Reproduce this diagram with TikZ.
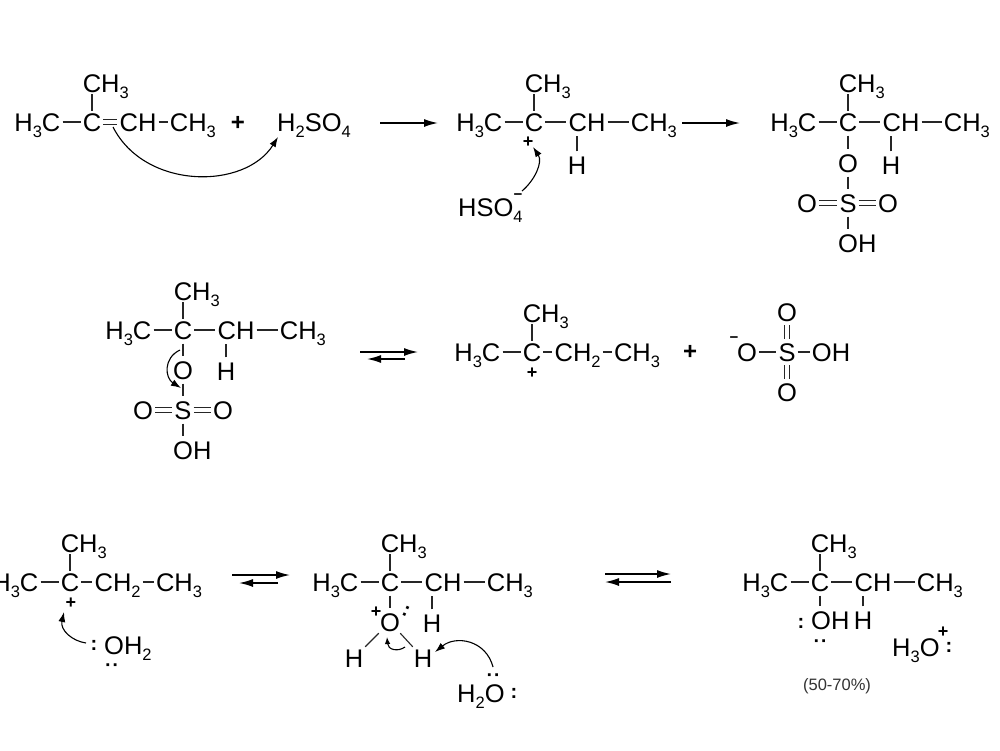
\documentclass[tikz,border=0pt]{standalone}
\usepackage{fontspec}
\setmainfont{Liberation Sans}
\usetikzlibrary{positioning,arrows.meta}

\tikzset{
	atom/.style={inner xsep=2pt,inner ysep=2pt,text height=18pt,text depth=0pt,font=\fontsize{25.5}{28}\selectfont},
	bond/.style={line width=1.4pt,black!85},
	vbond/.style={bond,shorten <=2.5pt,shorten >=2.5pt},
	dbl/.style={double,double distance=3.8pt,line width=1.4pt,black!85},
	rxn/.style={line width=1.5pt,-{Latex[length=14pt,width=8pt]}},
	curly/.style={line width=1.1pt,-{Latex[length=10pt,width=7pt]}},
	sign/.style={inner sep=0pt,font=\fontsize{24}{24}\bfseries\selectfont},
	charge/.style={inner sep=0pt,font=\fontsize{18}{18}\bfseries\selectfont},
	minus/.style={inner sep=0pt,font=\fontsize{15}{15}\bfseries\selectfont},
	pair/.style={inner sep=0pt,font=\fontsize{20}{20}\bfseries\selectfont},
}
\newcommand{\tsub}[1]{\raisebox{-6pt}{\fontsize{16.5}{16.5}\selectfont #1}}

\begin{document}
\begin{tikzpicture}[x=1pt,y=-1pt]
	\useasboundingbox (0,0) rectangle (1000,750);
	\fill[white] (0,0) rectangle (1000,750);

	% top row: alkene + acid
	\node [atom] (c1) at (92,122) {C};
	\node [atom, base left=18pt of c1] (a1) {H\tsub{3}C};
	\node [atom, base right=14pt of c1] (d1) {CH};
	\node [atom, base right=9pt of d1] (e1) {CH\tsub{3}};
	\node [atom, above=16.5pt of c1.north west, anchor=south west] (m1) {CH\tsub{3}};
	\node [sign] (p1) at (238,123) {+};
	\node [atom, anchor=west] (acid) at (275,122) {H\tsub{2}SO\tsub{4}};
	\coordinate (a1s) at (380,123);
	\coordinate (a1e) at (438,123);
	\draw[bond] (a1) -- (c1);
	\draw[bond] (c1.north) -- (c1.north |- m1.south);
	\draw[dbl] (c1) -- (d1);
	\draw[bond] (d1) -- (e1);
	\draw[curly] (113,127) .. controls (145,190) and (245,190) .. (278,137);
	\draw[rxn] (a1s) -- (a1e);

	% top row: carbocation
	\node [atom] (c2) at (534,122) {C};
	\node [atom, base left=18pt of c2] (a2) {H\tsub{3}C};
	\node [atom, base right=21pt of c2] (d2) {CH};
	\node [atom, base right=21pt of d2] (e2) {CH\tsub{3}};
	\node [atom, above=16.5pt of c2.north west, anchor=south west] (m2) {CH\tsub{3}};
	\node [atom] (h2) at (577,165) {H};
	\node [charge] (p2) at (528,142) {+};
	\node [atom, anchor=west] (hso) at (456,207) {HSO\tsub{4}};
	\node [minus] (n2) at (518,197) {−};
	\coordinate (a2s) at (682,123);
	\coordinate (a2e) at (740,123);
	\draw[bond] (a2) -- (c2);
	\draw[bond] (c2) -- (d2);
	\draw[bond] (d2) -- (e2);
	\draw[bond] (c2.north) -- (c2.north |- m2.south);
	\draw[vbond] (h2.north) -- (h2.north |- d2.south);
	\draw[curly] (522,191) .. controls (535,180) and (543,162) .. (533,147);
	\draw[rxn] (a2s) -- (a2e);

	% top row: sulfate ester
	\node [atom] (c3) at (848,122) {C};
	\node [atom, base left=18pt of c3] (a3) {H\tsub{3}C};
	\node [atom, base right=21pt of c3] (d3) {CH};
	\node [atom, base right=20pt of d3] (e3) {CH\tsub{3}};
	\node [atom, above=16.5pt of c3.north west, anchor=south west] (m3) {CH\tsub{3}};
	\node [atom] (h3) at (891,165) {H};
	\node [atom] (o3) at (848,163) {O};
	\node [atom] (s3) at (848,203) {S};
	\node [atom] (l3) at (807,203) {O};
	\node [atom] (r3) at (888,203) {O};
	\node [atom, anchor=west] (oh3) at (836,243) {OH};
	\draw[bond] (a3) -- (c3);
	\draw[bond] (c3) -- (d3);
	\draw[bond] (d3) -- (e3);
	\draw[bond] (c3.north) -- (c3.north |- m3.south);
	\draw[vbond] (h3.north) -- (h3.north |- d3.south);
	\draw[vbond] (c3.south) -- (o3.north);
	\draw[vbond] (o3.south) -- (s3.north);
	\draw[vbond] (s3.south) -- (s3.south |- oh3.north);
	\draw[dbl] (l3) -- (s3);
	\draw[dbl] (s3) -- (r3);

	% middle row: ester with curved arrow
	\node [atom] (c4) at (183,330) {C};
	\node [atom, base left=18pt of c4] (a4) {H\tsub{3}C};
	\node [atom, base right=21pt of c4] (d4) {CH};
	\node [atom, base right=21pt of d4] (e4) {CH\tsub{3}};
	\node [atom, above=16.5pt of c4.north west, anchor=south west] (m4) {CH\tsub{3}};
	\node [atom] (h4) at (226,371) {H};
	\node [atom] (o4) at (183,370) {O};
	\node [atom] (s4) at (183,410) {S};
	\node [atom] (l4) at (143,410) {O};
	\node [atom] (r4) at (223,410) {O};
	\node [atom, anchor=west] (oh4) at (171,450) {OH};
	\draw[bond] (a4) -- (c4);
	\draw[bond] (c4) -- (d4);
	\draw[bond] (d4) -- (e4);
	\draw[bond] (c4.north) -- (c4.north |- m4.south);
	\draw[vbond] (h4.north) -- (h4.north |- d4.south);
	\draw[vbond] (c4.south) -- (o4.north);
	\draw[vbond] (o4.south) -- (s4.north);
	\draw[vbond] (s4.south) -- (s4.south |- oh4.north);
	\draw[dbl] (l4) -- (s4);
	\draw[dbl] (s4) -- (r4);
	\draw[curly] (180,350) .. controls (163,358) and (165,378) .. (181,388);
	\coordinate (b1s) at (360,352);
	\coordinate (b1e) at (418,352);
	\coordinate (b2s) at (405,359);
	\coordinate (b2e) at (367,359);
	\draw[rxn] (b1s) -- (b1e);
	\draw[rxn] (b2s) -- (b2e);

	% middle row: cation + bisulfate
	\node [atom] (c5) at (532,352) {C};
	\node [atom, base left=18pt of c5] (a5) {H\tsub{3}C};
	\node [atom, base right=9pt of c5] (d5) {CH\tsub{2}};
	\node [atom, base right=9pt of d5] (e5) {CH\tsub{3}};
	\node [atom, above=16.5pt of c5.north west, anchor=south west] (m5) {CH\tsub{3}};
	\node [charge] (p5) at (532,373) {+};
	\node [sign] (p6) at (690,352) {+};
	\node [minus] (n6) at (734,340) {−};
	\node [atom] (o6) at (747,352) {O};
	\node [atom] (s6) at (787,352) {S};
	\node [atom, base right=12pt of s6] (oh6) {OH};
	\node [atom] (t6) at (787,312) {O};
	\node [atom] (u6) at (787,392) {O};
	\draw[bond] (a5) -- (c5);
	\draw[bond] (c5) -- (d5);
	\draw[bond] (d5) -- (e5);
	\draw[bond] (c5.north) -- (c5.north |- m5.south);
	\draw[bond] (o6) -- (s6);
	\draw[bond] (s6) -- (oh6);
	\draw[dbl,shorten <=2pt,shorten >=2pt] (t6) -- (s6);
	\draw[dbl,shorten <=2pt,shorten >=2pt] (s6) -- (u6);

	% bottom row: water attacks cation
	\node [atom] (c7) at (70,582) {C};
	\node [atom, base left=18pt of c7] (a7) {H\tsub{3}C};
	\node [atom, base right=11pt of c7] (d7) {CH\tsub{2}};
	\node [atom, base right=11pt of d7] (e7) {CH\tsub{3}};
	\node [atom, above=16.5pt of c7.north west, anchor=south west] (m7) {CH\tsub{3}};
	\node [charge] (p7) at (71,603) {+};
	\node [pair] (w7) at (94,645) {:};
	\node [atom, anchor=west] (o7) at (102,645) {OH\tsub{2}};
	\node [pair, rotate=90] (v7) at (111.5,665) {:};
	\draw[bond] (a7) -- (c7);
	\draw[bond] (c7) -- (d7);
	\draw[bond] (d7) -- (e7);
	\draw[bond] (c7.north) -- (c7.north |- m7.south);
	\draw[curly] (86,643) .. controls (72,641) and (60,630) .. (64,612);
	\coordinate (b3s) at (232,575);
	\coordinate (b3e) at (290,575);
	\coordinate (b4s) at (278,583);
	\coordinate (b4e) at (239,583);
	\draw[rxn] (b3s) -- (b3e);
	\draw[rxn] (b4s) -- (b4e);

	% bottom row: oxonium
	\node [atom] (c8) at (390,582) {C};
	\node [atom, base left=18pt of c8] (a8) {H\tsub{3}C};
	\node [atom, base right=21pt of c8] (d8) {CH};
	\node [atom, base right=21pt of d8] (e8) {CH\tsub{3}};
	\node [atom, above=16.5pt of c8.north west, anchor=south west] (m8) {CH\tsub{3}};
	\node [atom] (o8) at (390,622) {O};
	\node [atom] (h8) at (432,623) {H};
	\node [atom] (l8) at (354,658) {H};
	\node [atom] (r8) at (423,658) {H};
	\node [charge] (p8) at (376,612) {+};
	\node [pair, rotate=-25] (w8) at (406,611) {:};
	\node [atom, anchor=west] (w9) at (455,693) {H\tsub{2}O};
	\node [pair, rotate=90] (v9) at (493,675) {:};
	\node [pair] (x9) at (514,693) {:};
	\draw[bond] (a8) -- (c8);
	\draw[bond] (c8) -- (d8);
	\draw[bond] (d8) -- (e8);
	\draw[bond] (c8.north) -- (c8.north |- m8.south);
	\draw[vbond] (c8.south) -- (o8.north);
	\draw[vbond] (h8.north) -- (h8.north |- d8.south);
	\draw[bond,line width=1.1pt] (o8) -- (l8);
	\draw[bond,line width=1.1pt] (o8) -- (r8);
	\draw[curly,-{Latex[length=7pt,width=5.5pt]}] (405,647) .. controls (398,652) and (388,650) .. (387,637);
	\draw[curly] (493,667) .. controls (486,640) and (456,635) .. (435,652);
	\coordinate (b5s) at (605,574);
	\coordinate (b5e) at (671,574);
	\coordinate (b6s) at (671,582);
	\coordinate (b6e) at (605,582);
	\draw[rxn] (b5s) -- (b5e);
	\draw[rxn] (b6s) -- (b6e);

	% bottom row: alcohol
	\node [atom] (c9) at (820,582) {C};
	\node [atom, base left=18pt of c9] (a9) {H\tsub{3}C};
	\node [atom, base right=21pt of c9] (d9) {CH};
	\node [atom, base right=21pt of d9] (e9) {CH\tsub{3}};
	\node [atom, above=16.5pt of c9.north west, anchor=south west] (m9) {CH\tsub{3}};
	\node [atom, anchor=west] (oh9) at (809,620) {OH};
	\node [atom] (h9) at (863,620) {H};
	\node [pair] (w10) at (801,623) {:};
	\node [pair, rotate=90] (v10) at (820,641) {:};
	\node [atom, anchor=west] (hyd) at (890,647) {H\tsub{3}O};
	\node [charge] (p10) at (943,632) {+};
	\node [pair] (x10) at (949,647) {:};
	\node [inner sep=0pt,black!80,font=\fontsize{16.5}{16.5}\selectfont] (yield) at (837,686) {(50-70\%)};
	\draw[bond] (a9) -- (c9);
	\draw[bond] (c9) -- (d9);
	\draw[bond] (d9) -- (e9);
	\draw[bond] (c9.north) -- (c9.north |- m9.south);
	\draw[vbond] (c9.south) -- (c9.south |- oh9.north);
	\draw[vbond] (h9.north) -- (h9.north |- d9.south);
\end{tikzpicture}
\end{document}
